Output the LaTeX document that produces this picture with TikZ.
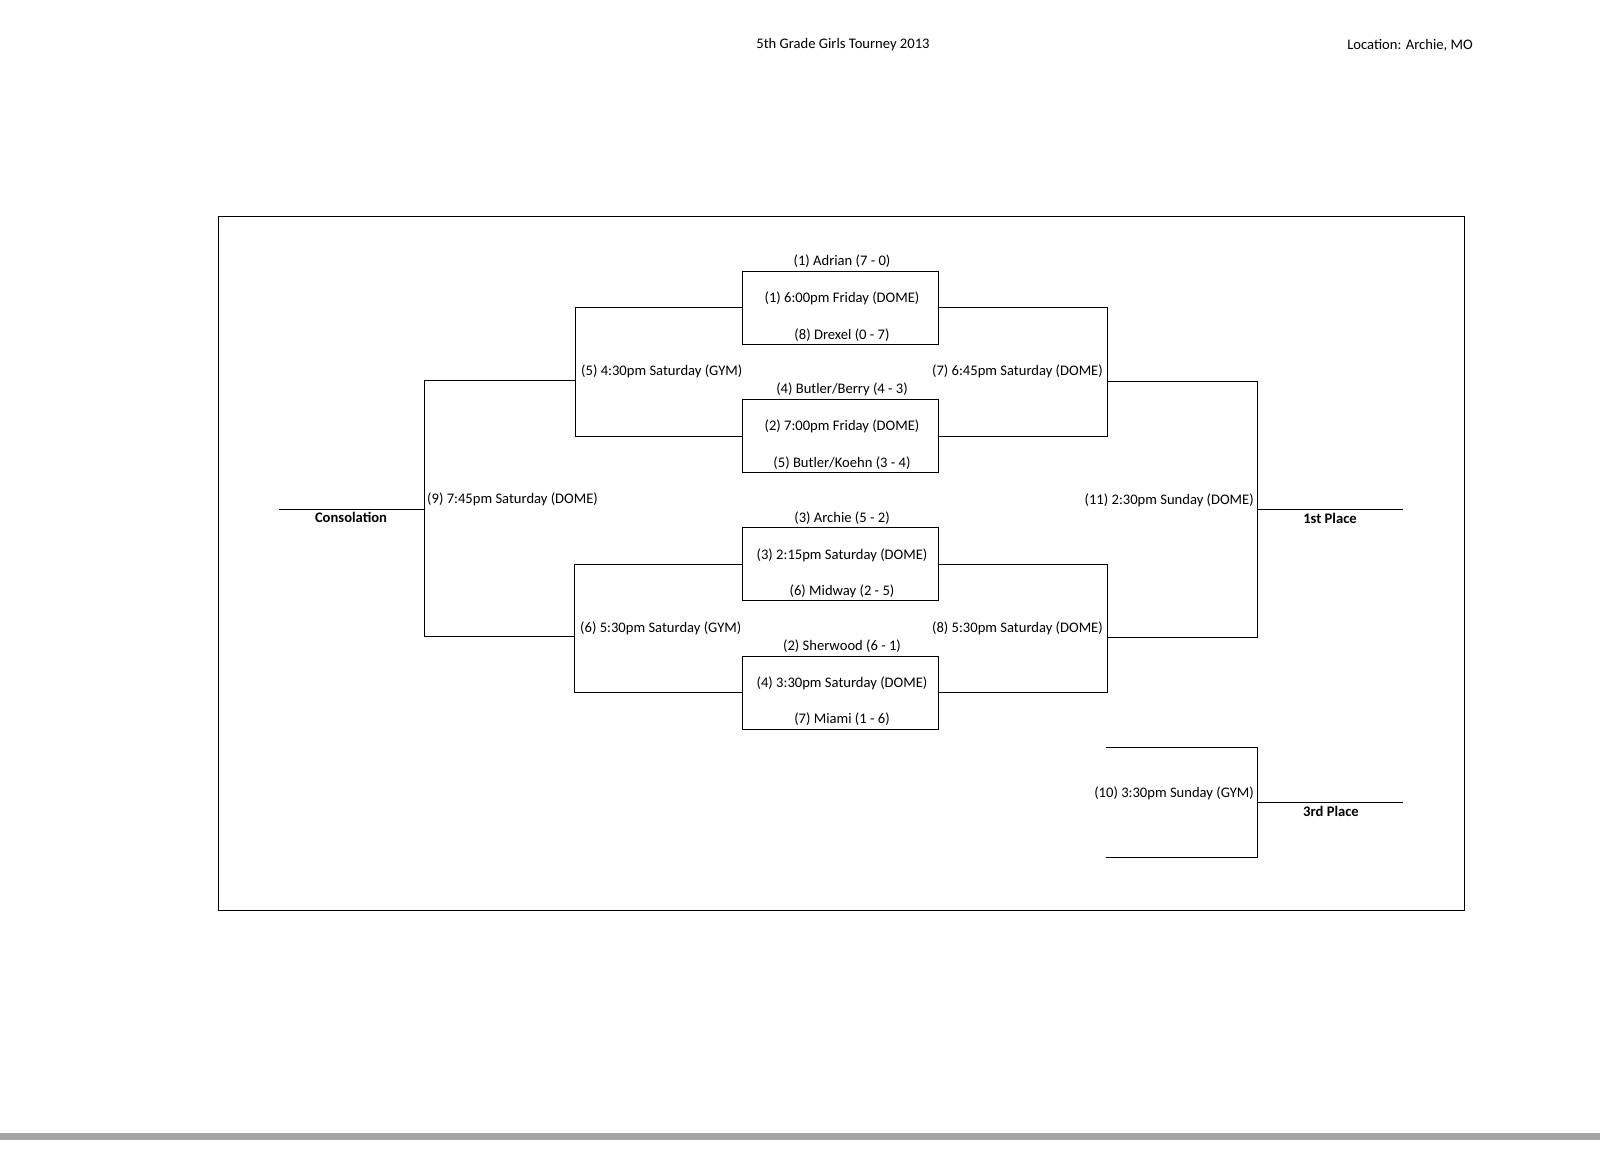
\documentclass[tikz,border=0pt]{standalone}
\usepackage{fontspec}
\setmainfont{Carlito}
\begin{document}
\begin{tikzpicture}[x=1pt,y=-1pt,
  box/.style={draw,line width=0.8pt,minimum width=196pt,minimum height=73pt,inner sep=0pt},
  ln/.style={line width=0.8pt},
  t/.style={font=\fontsize{14.6}{16}\selectfont,inner sep=1pt},
  b/.style={font=\bfseries\fontsize{14.6}{16}\selectfont,inner sep=1pt}]
\useasboundingbox (0,0) rectangle (1600,1163);
\fill[gray!70] (0,1133) rectangle (1600,1140);
\node[t] (title) at (843,45) {5th Grade Girls Tourney 2013};
\node[t] (loc) at (1410,45) {Location: Archie, MO};
\draw[ln] (218,216) rectangle (1464,910);
% game boxes
\node[box] (g1) at (840,307.5) {};
\node[box] (g2) at (840,435.5) {};
\node[box] (g3) at (840,563.5) {};
\node[box] (g4) at (840,692.5) {};
\node[t] at (842,261) {(1) Adrian (7 - 0)};
\node[t] at (842,298) {(1) 6:00pm Friday (DOME)};
\node[t] at (842,335) {(8) Drexel (0 - 7)};
\node[t] at (842,389) {(4) Butler/Berry (4 - 3)};
\node[t] at (842,426) {(2) 7:00pm Friday (DOME)};
\node[t] at (842,463) {(5) Butler/Koehn (3 - 4)};
\node[t] at (842,518) {(3) Archie (5 - 2)};
\node[t] at (842,555) {(3) 2:15pm Saturday (DOME)};
\node[t] at (842,591) {(6) Midway (2 - 5)};
\node[t] at (842,646) {(2) Sherwood (6 - 1)};
\node[t] at (842,683) {(4) 3:30pm Saturday (DOME)};
\node[t] at (842,719) {(7) Miami (1 - 6)};
% left brackets
\draw[ln] (g1.west |- 0,307) -- (575,307) -- (575,436) -- (g2.west |- 0,436);
\draw[ln] (g3.west |- 0,564) -- (574,564) -- (574,692) -- (g4.west |- 0,692);
\node[t,anchor=west] at (580,371) {(5) 4:30pm Saturday (GYM)};
\node[t,anchor=west] at (579,628) {(6) 5:30pm Saturday (GYM)};
\draw[ln] (575,380) -- (424,380) -- (424,636) -- (574,636);
\node[t,anchor=west] at (426,499) {(9) 7:45pm Saturday (DOME)};
\draw[ln] (279,509) -- (424,509);
\node[b] at (351,517) {Consolation};
% right brackets
\draw[ln] (g1.east |- 0,307) -- (1107,307) -- (1107,436) -- (g2.east |- 0,436);
\draw[ln] (g3.east |- 0,564) -- (1107,564) -- (1107,692) -- (g4.east |- 0,692);
\node[t,anchor=east] at (1104,371) {(7) 6:45pm Saturday (DOME)};
\node[t,anchor=east] at (1104,628) {(8) 5:30pm Saturday (DOME)};
\draw[ln] (1107,381) -- (1257,381) -- (1257,637) -- (1107,637);
\node[t,anchor=east] at (1255,500) {(11) 2:30pm Sunday (DOME)};
\draw[ln] (1257,509) -- (1403,509);
\node[b] at (1330,518) {1st Place};
\draw[ln] (1106,747) -- (1257,747) -- (1257,857) -- (1106,857);
\node[t,anchor=east] at (1255,793) {(10) 3:30pm Sunday (GYM)};
\draw[ln] (1257,802) -- (1403,802);
\node[b] at (1331,811) {3rd Place};
\end{tikzpicture}
\end{document}
